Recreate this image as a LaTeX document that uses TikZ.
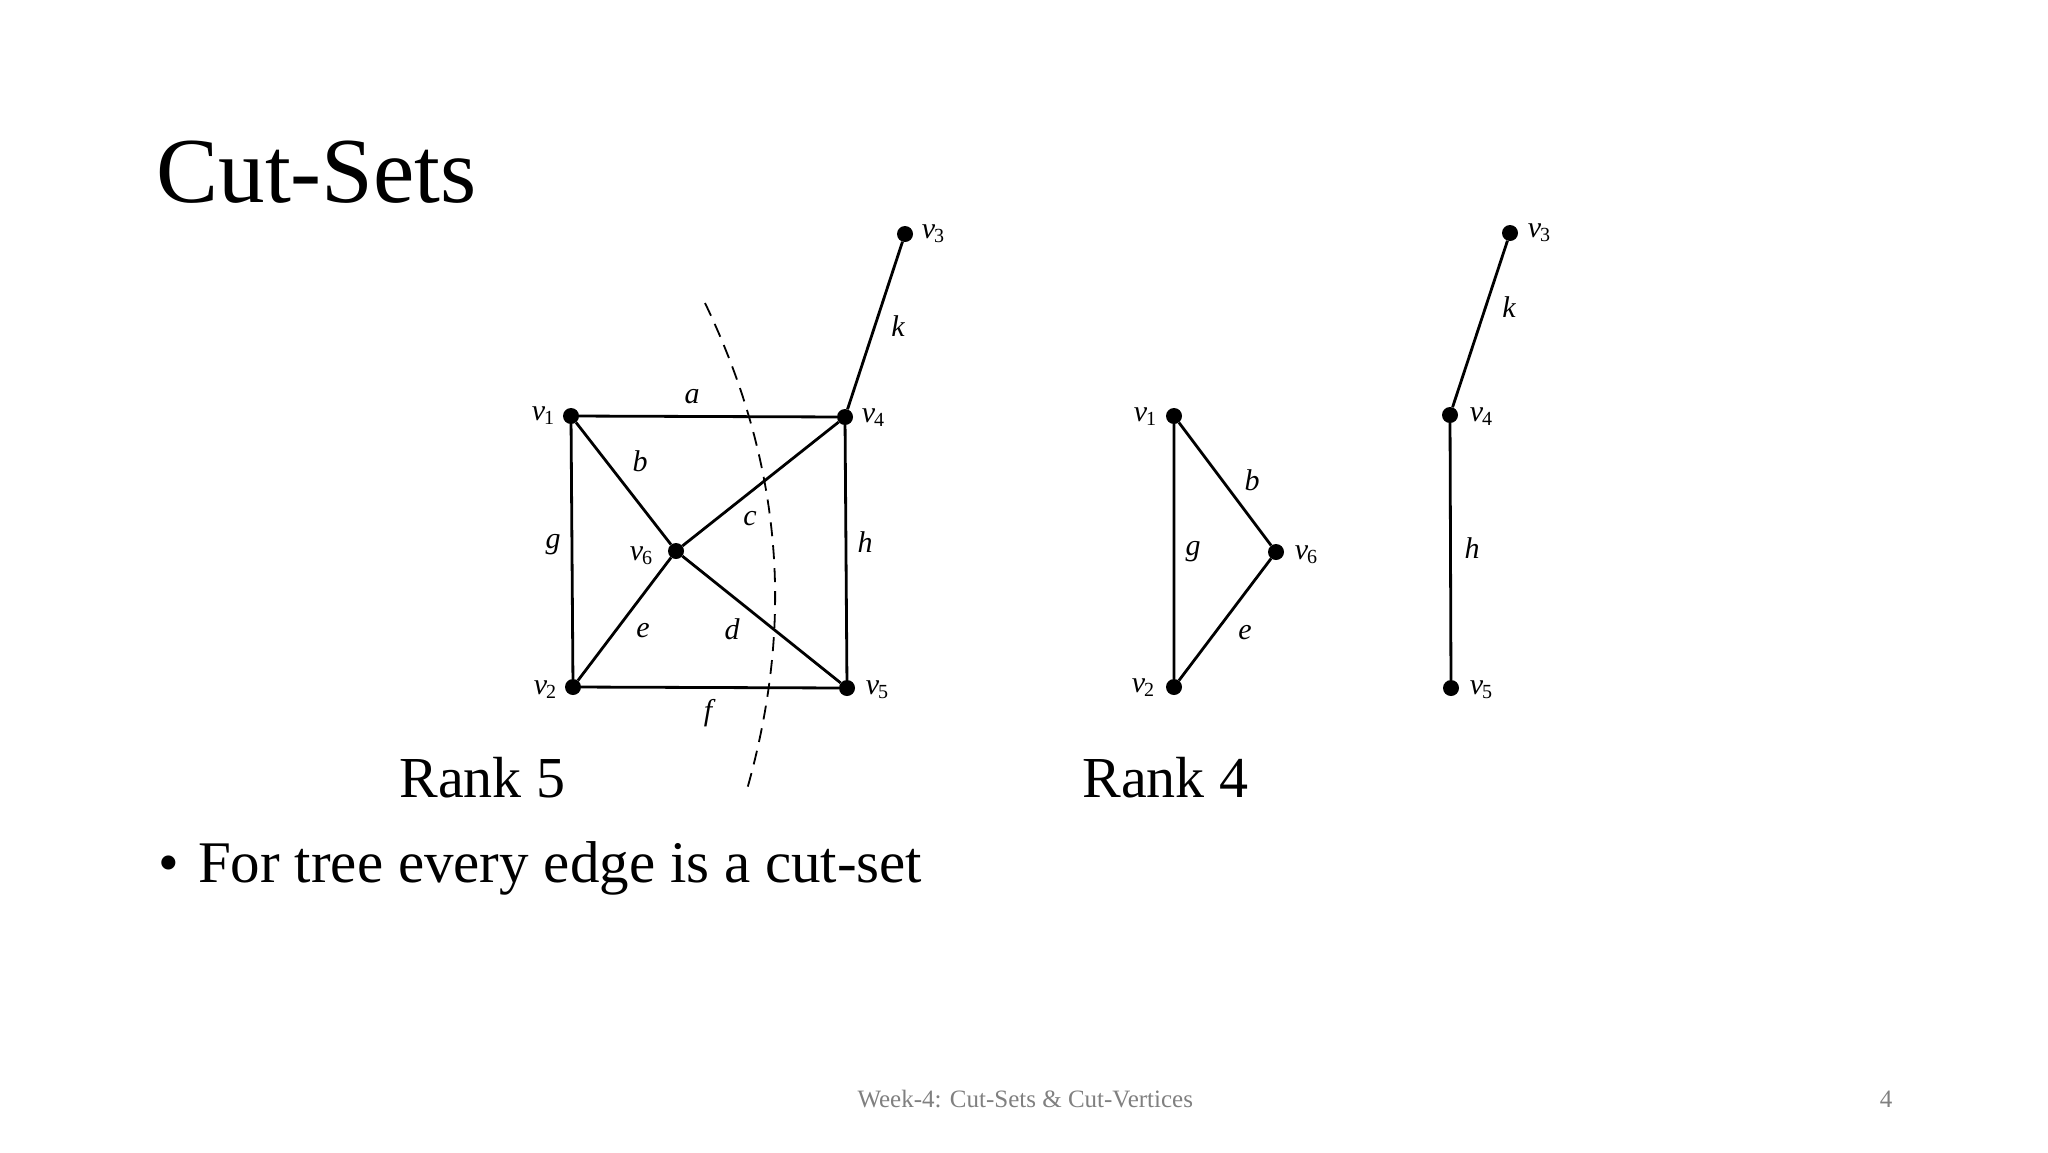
\documentclass[tikz,border=0pt]{standalone}
\usepackage{fontspec}
\setmainfont{Liberation Serif}
\usetikzlibrary{positioning}
\newcommand{\vlab}[1]{\textit{v}\kern-1pt\raisebox{-0.3ex}{\fontsize{20}{20}\selectfont\upshape #1}}

\begin{document}
\begin{tikzpicture}[x=1pt,y=-1pt,
  vtx/.style={circle,fill=black,inner sep=0pt,minimum size=16pt},
  lbl/.style={font=\fontsize{30}{32}\selectfont\itshape},
  edge/.style={line width=2.8pt}]
\useasboundingbox (0,0) rectangle (2048,1152);
\fill[white] (0,0) rectangle (2048,1152);
\node[anchor=base west,font=\fontsize{93}{100}\selectfont] (title) at (153,202) {Cut-Sets};

% rank 5 graph
\node[vtx] (p1) at (571,416) {};
\node[vtx] (p2) at (573,687) {};
\node[vtx] (p3) at (905,234) {};
\node[vtx] (p4) at (845,417) {};
\node[vtx] (p5) at (847,688) {};
\node[vtx] (p6) at (676,551) {};
\draw[edge] (p1)--(p4)--(p5)--(p2)--(p1) (p1)--(p6)--(p5) (p2)--(p6)--(p4) (p4)--(p3);
\node[lbl] (lp1) at (543,416) {\vlab{1}};
\node[lbl] (lp2) at (545,690) {\vlab{2}};
\node[lbl] (lp3) at (933,234) {\vlab{3}};
\node[lbl] (lp4) at (873,418) {\vlab{4}};
\node[lbl] (lp5) at (877,690) {\vlab{5}};
\node[lbl] (lp6) at (641,556) {\vlab{6}};
\node[lbl] (ea) at (692,397) {a};
\node[lbl] (eb) at (640,461) {b};
\node[lbl] (ec) at (750,519) {c};
\node[lbl] (ed) at (732,629) {d};
\node[lbl] (ee) at (643,631) {e};
\node[lbl] (ef) at (708,713) {f};
\node[lbl] (eg) at (553,545) {g};
\node[lbl] (eh) at (865,542) {h};
\node[lbl] (ek) at (898,326) {k};
\coordinate (cutA) at (705,303);
\coordinate (cutB) at (746,793);
\draw[line width=1.8pt,dash pattern=on 14pt off 9pt] (cutA) .. controls (790,480) and (790,640) .. (cutB);
\node[anchor=base west,font=\fontsize{58}{60}\selectfont] (rank5) at (396,797) {Rank 5};

% rank 4 forest
\node[vtx] (q1) at (1174,416) {};
\node[vtx] (q2) at (1174,687) {};
\node[vtx] (q6) at (1276,552) {};
\node[vtx] (q3) at (1510,233) {};
\node[vtx] (q4) at (1450,415) {};
\node[vtx] (q5) at (1451,688) {};
\draw[edge] (q1)--(q6)--(q2)--(q1) (q3)--(q4)--(q5);
\node[lbl] (lq1) at (1145,417) {\vlab{1}};
\node[lbl] (lq2) at (1143,688) {\vlab{2}};
\node[lbl] (lq6) at (1306,555) {\vlab{6}};
\node[lbl] (lq3) at (1539,233) {\vlab{3}};
\node[lbl] (lq4) at (1481,417) {\vlab{4}};
\node[lbl] (lq5) at (1481,690) {\vlab{5}};
\node[lbl] (fb) at (1252,480) {b};
\node[lbl] (fg) at (1193,552) {g};
\node[lbl] (fe) at (1245,633) {e};
\node[lbl] (fk) at (1509,307) {k};
\node[lbl] (fh) at (1472,548) {h};
\node[anchor=base west,font=\fontsize{58}{60}\selectfont] (rank4) at (1079,797) {Rank 4};

\node[anchor=base west,font=\fontsize{59}{62}\selectfont] (bullet) at (155,882) {\textbullet\hspace{19pt}For tree every edge is a cut-set};
\node[anchor=base west,font=\fontsize{25}{27}\selectfont,text=gray] (footer) at (854,1107) {Week-4: Cut-Sets \& Cut-Vertices};
\node[anchor=base,font=\fontsize{25}{27}\selectfont,text=gray] (pageno) at (1886,1107) {4};
\end{tikzpicture}
\end{document}
